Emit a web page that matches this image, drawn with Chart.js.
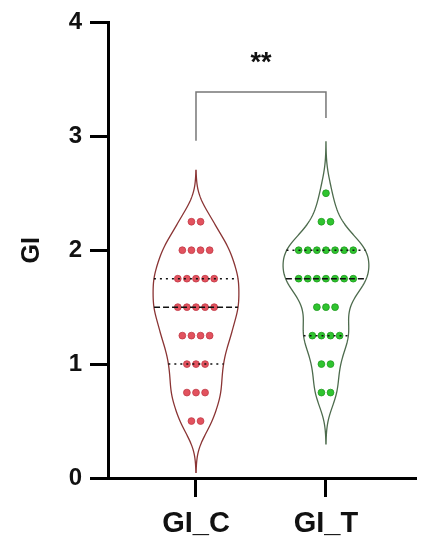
<!DOCTYPE html>
<html>
<head>
<meta charset="utf-8">
<script src="https://cdn.jsdelivr.net/npm/chart.js@4.4.1/dist/chart.umd.min.js"></script>
<style>
  body { margin: 0; background: #fff; }
  #box { width: 424px; height: 550px; }
</style>
</head>
<body>
<div id="box"><canvas id="gi-chart" width="424" height="550"></canvas></div>
<script>
// groups and values
let categories = ['GI_C', 'GI_T']
let giC = [0.5, 0.5, 0.75, 0.75, 0.75, 1, 1, 1, 1.25, 1.25, 1.25, 1.25,
    1.5, 1.5, 1.5, 1.5, 1.5, 1.75, 1.75, 1.75, 1.75, 1.75, 2, 2, 2, 2, 2.25, 2.25]
let giT = [0.75, 0.75, 1, 1, 1.25, 1.25, 1.25, 1.25, 1.5, 1.5, 1.5,
    1.75, 1.75, 1.75, 1.75, 1.75, 1.75, 1.75, 2, 2, 2, 2, 2, 2, 2, 2.25, 2.25, 2.5]
let yTicks = [0, 1, 2, 3, 4]
let sigLabel = '**'

let groups = [giC, giT]
let dotColors = ['#e2525e', '#2fc42f']
let dotBorders = ['#c23a46', '#1f9a1f']
let violinColors = ['#8a3434', '#4d6b4d']

let bw = 0.15        // kde bandwidth
let halfWidth = 0.33 // max half width of a violin, x units
let dotStep = 0.07   // spacing of dots in a row, x units

// dots laid out in rows, one row per value
function swarm(values, center) {
    let rows = {}
    values.forEach(v => { rows[v] = (rows[v] || 0) + 1 })
    let pts = []
    Object.keys(rows).forEach(k => {
        let n = rows[k]
        for (let i = 0; i < n; i++) {
            pts.push({x: center + (i - (n - 1) / 2) * dotStep, y: parseFloat(k)})
        }
    })
    return pts
}

function quantile(values, p) {
    let s = values.slice().sort((a, b) => a - b)
    let pos = (s.length + 1) * p - 1
    let lo = Math.floor(pos), hi = Math.ceil(pos)
    return s[lo] + (s[hi] - s[lo]) * (pos - lo)
}

function kde(values, y) {
    let sum = 0
    values.forEach(v => { let z = (y - v) / bw; sum += Math.exp(-0.5 * z * z) })
    return sum
}

function violinProfile(values) {
    let lo = Math.min(...values) - 3 * bw
    let hi = Math.max(...values) + 3 * bw
    let pts = []
    let max = 0
    for (let i = 0; i <= 200; i++) {
        let y = lo + (hi - lo) * i / 200
        let d = kde(values, y)
        if (d > max) max = d
        pts.push([y, d])
    }
    return pts.map(p => [p[0], p[1] / max * halfWidth])
}

let profiles = groups.map(violinProfile)

function widthAt(profile, y) {
    let best = profile[0]
    profile.forEach(p => { if (Math.abs(p[0] - y) < Math.abs(best[0] - y)) best = p })
    return best[1]
}

let violinPlugin = {
    id: 'violins',
    beforeDatasetsDraw(chart) {
        let ctx = chart.ctx
        let xs = chart.scales.x, ys = chart.scales.y
        profiles.forEach((prof, g) => {
            let c = g + 1
            ctx.save()
            ctx.strokeStyle = violinColors[g]
            ctx.lineWidth = 1.3
            ctx.beginPath()
            prof.forEach((p, i) => {
                let px = xs.getPixelForValue(c + p[1]), py = ys.getPixelForValue(p[0])
                if (i === 0) ctx.moveTo(px, py); else ctx.lineTo(px, py)
            })
            for (let i = prof.length - 1; i >= 0; i--) {
                let p = prof[i]
                ctx.lineTo(xs.getPixelForValue(c - p[1]), ys.getPixelForValue(p[0]))
            }
            ctx.closePath()
            ctx.stroke()
            ctx.restore()
        })
    },
    afterDatasetsDraw(chart) {
        let ctx = chart.ctx
        let xs = chart.scales.x, ys = chart.scales.y
        groups.forEach((vals, g) => {
            let c = g + 1
            let lines = [
                {v: quantile(vals, 0.25), dash: [2, 4]},
                {v: quantile(vals, 0.5), dash: [6, 3]},
                {v: quantile(vals, 0.75), dash: [2, 4]}
            ]
            lines.forEach(l => {
                let w = widthAt(profiles[g], l.v)
                let py = ys.getPixelForValue(l.v)
                ctx.save()
                ctx.strokeStyle = '#111'
                ctx.lineWidth = 1.5
                ctx.setLineDash(l.dash)
                ctx.beginPath()
                ctx.moveTo(xs.getPixelForValue(c - w), py)
                ctx.lineTo(xs.getPixelForValue(c + w), py)
                ctx.stroke()
                ctx.restore()
            })
        })
        // significance bracket
        let x1 = xs.getPixelForValue(1), x2 = xs.getPixelForValue(2)
        let top = ys.getPixelForValue(3.39)
        ctx.save()
        ctx.strokeStyle = '#777'
        ctx.lineWidth = 1.5
        ctx.beginPath()
        ctx.moveTo(x1, ys.getPixelForValue(2.96))
        ctx.lineTo(x1, top)
        ctx.lineTo(x2, top)
        ctx.lineTo(x2, ys.getPixelForValue(3.16))
        ctx.stroke()
        ctx.fillStyle = '#111'
        ctx.font = 'bold 27px "Liberation Sans", Arial, sans-serif'
        ctx.textAlign = 'center'
        ctx.textBaseline = 'alphabetic'
        ctx.fillText(sigLabel, (x1 + x2) / 2, top - 21)
        ctx.restore()
    }
}

let ctx = document.querySelector('#gi-chart').getContext('2d')

let chart = new Chart(ctx, {
    type: 'scatter',
    data: {
        datasets: groups.map((vals, g) => ({
            label: categories[g],
            data: swarm(vals, g + 1),
            pointRadius: 3.4,
            pointBackgroundColor: dotColors[g],
            pointBorderColor: dotBorders[g],
            pointBorderWidth: 0.8
        }))
    },
    options: {
        responsive: false,
        animation: false,
        layout: {padding: {top: 22, right: 9, left: 0, bottom: 0}},
        plugins: {legend: {display: false}, tooltip: {enabled: false}},
        scales: {
            x: {
                type: 'linear',
                min: 0.323,
                max: 2.685,
                afterBuildTicks: s => { s.ticks = [{value: 1}, {value: 2}] },
                afterFit: s => { s.height = 72 },
                border: {color: '#000', width: 3},
                grid: {drawOnChartArea: false, drawTicks: true, tickLength: 19, lineWidth: 3, color: '#000'},
                ticks: {
                    callback: v => categories[v - 1],
                    padding: 10,
                    color: '#111',
                    font: {family: '"Liberation Sans", Arial, sans-serif', size: 29, weight: 'bold'}
                }
            },
            y: {
                min: 0,
                max: 4,
                afterBuildTicks: s => { s.ticks = yTicks.map(v => ({value: v})) },
                afterFit: s => { s.width = 108 },
                border: {color: '#000', width: 3},
                grid: {drawOnChartArea: false, drawTicks: true, tickLength: 18, lineWidth: 3, color: '#000'},
                ticks: {
                    padding: 8,
                    color: '#111',
                    font: {family: '"Liberation Sans", Arial, sans-serif', size: 24, weight: 'bold'}
                },
                title: {
                    display: true,
                    text: 'GI',
                    color: '#111',
                    padding: {top: 17, bottom: 0},
                    font: {family: '"Liberation Sans", Arial, sans-serif', size: 25, weight: 'bold'}
                }
            }
        }
    },
    plugins: [violinPlugin]
})
</script>
</body>
</html>
